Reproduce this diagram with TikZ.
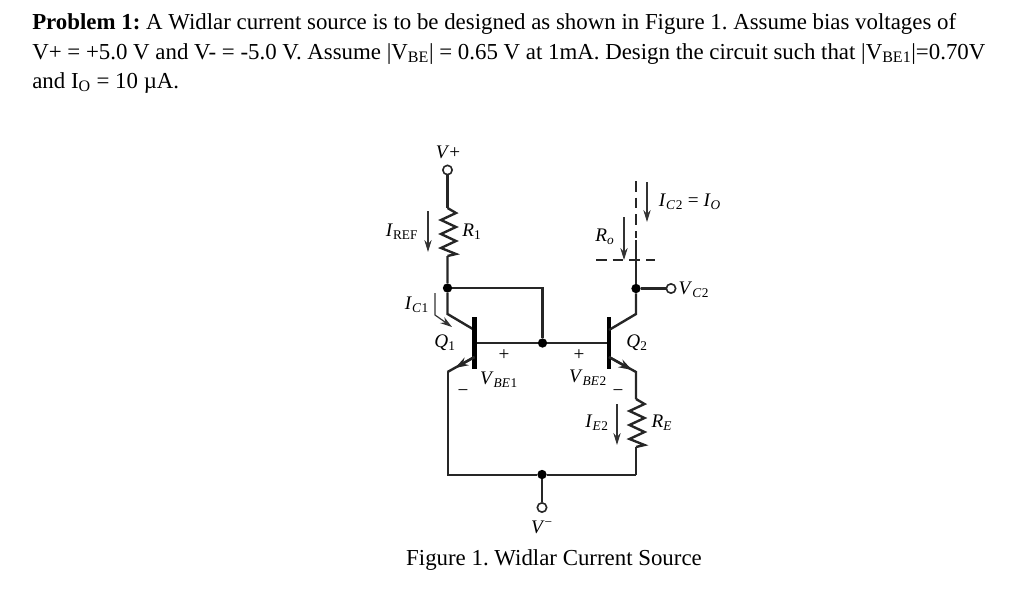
\documentclass[tikz,border=0pt]{standalone}
\usepackage{fontspec}
\usetikzlibrary{arrows.meta}
\setmainfont{Liberation Serif}
\newcommand{\zigres}[1]{% top end of a resistor
    \draw[wire] (#1) -- ++(8.5,5) -- ++(-15,7) -- ++(15,7) -- ++(-15,7)
        -- ++(15,7) -- ++(-15,7) -- ++(15,6) -- ++(-8.5,2)
}
\newcommand{\vsub}[2]{\textit{#1}\textsubscript{\textit{#2}}}
\tikzset{
    wire/.style={line width=1.8pt, line join=miter, draw=black!85},
    low wire/.style={line width=1.5pt, draw=black!85},
    dashwire/.style={line width=1.4pt, draw=black!85, dash pattern=on 8pt off 4.5pt},
    bar/.style={line width=3.2pt, draw=black},
    cur/.style={line width=0.9pt, draw=black!80, -{Stealth[length=9pt, width=5.5pt]}},
    tip/.style={-{Stealth[length=10pt, width=6.5pt]}},
    dot/.style={circle, fill=black, inner sep=0pt, minimum size=7pt},
    term/.style={circle, draw=black!85, fill=white, line width=1.2pt, inner sep=0pt, minimum size=7pt},
    para/.style={anchor=base west, inner sep=0pt, font=\fontsize{17.15}{19}\selectfont},
    lab/.style={inner sep=0pt, font=\fontsize{14.4}{16}\selectfont},
}
\begin{document}
\frenchspacing
\begin{tikzpicture}[x=0.75pt, y=-0.75pt]
    \useasboundingbox (0, 0) rectangle (1033, 596);
    % problem text
    \node[para] (line1) at (32, 29) {\textbf{Problem 1:} A Widlar current source is to be designed as shown in Figure 1. Assume bias voltages of};
    \node[para] (line2) at (32, 59) {V+ = +5.0 V and V- = -5.0 V. Assume |V\textsubscript{BE}| = 0.65 V at 1mA. Design the circuit such that |V\textsubscript{BE1}|=0.70V};
    \node[para] (line3) at (32, 88) {and I\textsubscript{O} = 10 µA.};
    \node[para, anchor=base] (caption) at (554, 565) {Figure 1. Widlar Current Source};
    % junctions and terminals
    \node[term] (vplus) at (447.5, 170) {};
    \node[dot] (ctop) at (447.5, 288) {};
    \node[dot] (base) at (542.5, 343) {};
    \node[dot] (out) at (636, 288.5) {};
    \node[term] (vc2) at (671, 288.5) {};
    \node[dot] (bot) at (542, 474.5) {};
    \node[term] (vminus) at (542, 507.5) {};
    \coordinate (r1top) at (447.5, 208);
    \coordinate (r1bot) at (447.5, 256);
    \coordinate (retop) at (636, 399);
    \coordinate (rebot) at (636, 447);
    \coordinate (corner) at (542.5, 288);
    \coordinate (b1) at (474.5, 343);
    \coordinate (b2) at (609, 343);
    \coordinate (c1) at (447.5, 314);
    \coordinate (e1) at (447.5, 372);
    \coordinate (c2) at (636, 314);
    \coordinate (e2) at (636, 372);
    \coordinate (bl) at (447.5, 474.5);
    \coordinate (br) at (636, 474.5);
    % supply side
    \draw[wire] (vplus) -- (r1top);
    \zigres{r1top};
    \draw[wire] (r1bot) -- (ctop) -- (c1) -- (474.5, 330);
    \draw[wire] (ctop) -- (corner) -- (base);
    \draw[wire] (b1) -- (base) -- (b2);
    \draw[bar] (474.5, 317) -- (474.5, 369);
    \draw[bar] (609, 317) -- (609, 369);
    % Q1 emitter
    \draw[wire] (474.5, 357) -- (e1);
    \draw[wire, tip] (474.5, 357) -- (455, 368);
    \draw[low wire] (e1) -- (bl) -- (bot);
    % Q2
    \draw[wire] (609, 330) -- (c2) -- (out);
    \draw[wire] (out) -- (636, 240);
    \draw[dashwire] (636, 181) -- (636, 238);
    \draw[dashwire] (596, 260) -- (655, 260);
    \draw[wire] (out) -- (vc2);
    \draw[wire] (609, 357) -- (e2) -- (retop);
    \draw[wire, tip] (609, 357) -- (632, 370);
    \zigres{retop};
    \draw[wire] (rebot) -- (br);
    \draw[low wire] (bot) -- (br);
    \draw[wire] (bot) -- (vminus);
    % currents
    \draw[cur] (428, 211) -- (428, 252);
    \draw[cur] (435, 293) -- (435, 315) -- (452, 327);
    \draw[cur] (624, 217) -- (624, 260);
    \draw[cur] (647, 182) -- (647, 222);
    \draw[cur] (617, 404) -- (617, 445);
    % labels
    \node[lab] (lvplus) at (448, 152) {\textit{V}+};
    \node[lab] (lvminus) at (542, 527) {\textit{V}\textsuperscript{−}};
    \node[lab] (liref) at (402, 232) {\textit{I}\textsubscript{REF}};
    \node[lab] (lr1) at (472, 232) {\textit{R}\textsubscript{1}};
    \node[lab] (lro) at (605, 237) {\vsub{R}{o}};
    \node[lab] (lic2) at (690, 202) {\vsub{I}{C}\textsubscript{2} = \vsub{I}{O}};
    \node[lab] (lvc2) at (694, 290) {\vsub{V}{C}\textsubscript{2}};
    \node[lab] (lic1) at (417, 305) {\vsub{I}{C}\textsubscript{1}};
    \node[lab] (lq1) at (445, 343) {\textit{Q}\textsubscript{1}};
    \node[lab] (lq2) at (637, 343) {\textit{Q}\textsubscript{2}};
    \node[lab] (lvbe1) at (499, 380) {\vsub{V}{BE}\textsubscript{1}};
    \node[lab] (lvbe2) at (588, 378) {\vsub{V}{BE}\textsubscript{2}};
    \node[lab] (lp1) at (504, 355) {+};
    \node[lab] (lp2) at (579, 355) {+};
    \node[lab] (lm1) at (463, 393) {−};
    \node[lab] (lm2) at (618, 393) {−};
    \node[lab] (lie2) at (597, 423) {\vsub{I}{E}\textsubscript{2}};
    \node[lab] (lre) at (662, 423) {\vsub{R}{E}};
\end{tikzpicture}
\end{document}
